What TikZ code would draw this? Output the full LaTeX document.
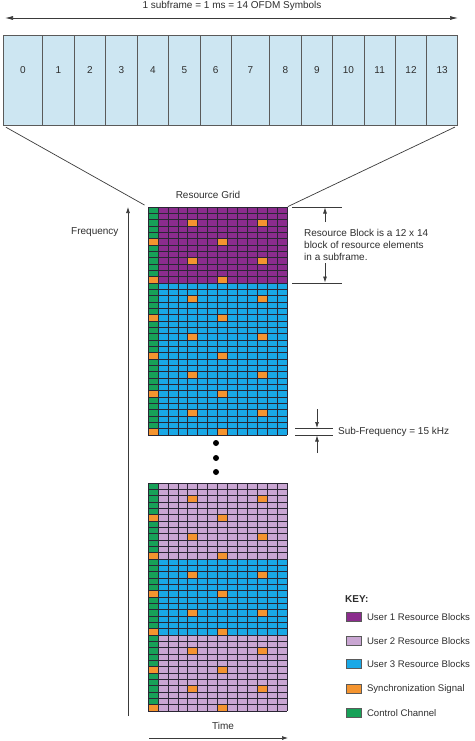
\documentclass[tikz,border=0pt]{standalone}
\usepackage{fontspec}
\setmainfont{Liberation Sans}
\usepackage{tikz}
\usetikzlibrary{arrows.meta,positioning}

\definecolor{symblue}{HTML}{CDE6F2}
\definecolor{boxedge}{HTML}{5A5A5A}
\definecolor{lineclr}{HTML}{3A3A3A}
\definecolor{txt}{HTML}{2E2E2E}
\definecolor{userone}{HTML}{8B2C8D}
\definecolor{usertwo}{HTML}{C9A6D2}
\definecolor{userthree}{HTML}{19A8E6}
\definecolor{syncorange}{HTML}{F4942F}
\definecolor{ctrlgreen}{HTML}{17A158}
\definecolor{gridline}{HTML}{2A2634}

\begin{document}
\begin{tikzpicture}[x=1pt, y=-1pt, font=\fontsize{10}{12}\selectfont, text=txt,
    symbox/.style={draw=boxedge, fill=symblue, line width=0.8pt, inner sep=0pt, outer sep=0pt, minimum height=90.5pt},
    zoomline/.style={draw=lineclr, line width=0.7pt},
    cellline/.style={draw=gridline, line width=0.5pt},
    dimline/.style={draw=lineclr, line width=0.7pt},
    dimarrow/.style={draw=lineclr, line width=0.7pt, -{Latex[length=6pt,width=4pt]}},
    swatch/.style={draw=boxedge, line width=0.6pt, minimum width=15pt, minimum height=9pt, inner sep=0pt}]
    \useasboundingbox (0,0) rectangle (474,741);
            %Subframe span
        \node (title) at (232,6) {1 subframe = 1 ms = 14 OFDM Symbols};
        \coordinate (spanL) at (5,18);
        \coordinate (spanR) at (458,18);
        \draw[dimline, {Latex[length=8pt,width=4pt]}-{Latex[length=8pt,width=4pt]}] (spanL) -- (spanR);
            %Symbol boxes
        \foreach \i/\a/\b in {0/3.3/42.7, 1/42.7/74, 2/74/105.7, 3/105.7/137.3, 4/137.3/168.7, 5/168.7/200, 6/200/231.3, 7/231.3/269.3, 8/269.3/301.3, 9/301.3/332.7, 10/332.7/364, 11/364/395.3, 12/395.3/426.7, 13/426.7/457.7}
        \node[symbox, minimum width={(\b-\a)*1pt}] (sym\i) at ({(\a+\b)/2},80.5) {};
        \foreach \i in {0,...,13}
        \node (num\i) at ([yshift=10pt]sym\i.center) {\i};
            %Zoom lines
        \coordinate (gridNW) at (148,207);
        \coordinate (gridNE) at (287,207);
        \draw[zoomline, shorten <=3pt, shorten >=4pt] (sym0.south west) -- (gridNW);
        \draw[zoomline, shorten <=3pt, shorten >=1pt] (sym13.south east) -- (gridNE);
        \node (gridtitle) at (208,195) {Resource Grid};
            %Resource grids
        \foreach \gtop/\ca/\cb/\cc in {207/userone/userthree/userthree, 483/usertwo/userthree/usertwo}{
            \fill[fill=\ca] (148,\gtop) rectangle (287,\gtop+76);
            \fill[fill=\cb] (148,\gtop+76) rectangle (287,\gtop+152);
            \fill[fill=\cc] (148,\gtop+152) rectangle (287,\gtop+228);
            \fill[ctrlgreen] (148,\gtop) rectangle (157.93,\gtop+228);
            \foreach \r in {2,8,...,32}
            \foreach \c in {4,11}
            \fill[syncorange] (148+\c*9.93,\gtop+\r*6.333) rectangle +(9.93,6.333);
            \foreach \r in {5,11,...,35}
            \foreach \c in {0,7}
            \fill[syncorange] (148+\c*9.93,\gtop+\r*6.333) rectangle +(9.93,6.333);
            \foreach \c in {0,...,14}
            \draw[cellline] (148+\c*9.93,\gtop) -- +(0,228);
            \foreach \r in {0,...,36}
            \draw[cellline] (148,\gtop+\r*6.333) -- +(139,0);
        }
            %Dots
        \foreach \y in {443,458,472}
        \fill[black] (216,\y) circle (3pt);
            %Axes
        \coordinate (freqfoot) at (128,716);
        \coordinate (freqtip) at (128,207);
        \draw[dimarrow] (freqfoot) -- (freqtip);
        \node[anchor=east] (freqlabel) at (122,232) {Frequency};
        \coordinate (timefoot) at (149,738);
        \coordinate (timetip) at (288,738);
        \draw[dimarrow] (timefoot) -- (timetip);
        \node (timelabel) at (223,726) {Time};
            %Resource block size
        \coordinate (rbtopL) at (292,207);
        \coordinate (rbtopR) at (342,207);
        \coordinate (rbbotL) at (292,283);
        \coordinate (rbbotR) at (342,283);
        \coordinate (rbup) at (325,222);
        \coordinate (rbupTip) at (325,207.5);
        \coordinate (rbdown) at (325,263);
        \coordinate (rbdownTip) at (325,282.5);
        \draw[dimline] (rbtopL) -- (rbtopR);
        \draw[dimline] (rbbotL) -- (rbbotR);
        \draw[dimarrow] (rbup) -- (rbupTip);
        \draw[dimarrow] (rbdown) -- (rbdownTip);
        \node[anchor=north west, align=left, inner sep=0pt] (rbnote) at (304,229) {Resource Block is a 12 x 14\\block of resource elements\\in a subframe.};
            %Sub-frequency
        \coordinate (sfTopL) at (295,428.5);
        \coordinate (sfTopR) at (333,428.5);
        \coordinate (sfBotL) at (295,435);
        \coordinate (sfBotR) at (333,435);
        \coordinate (sfdown) at (317,409);
        \coordinate (sfdownTip) at (317,428);
        \coordinate (sfup) at (317,453);
        \coordinate (sfupTip) at (317,435.5);
        \draw[dimline] (sfTopL) -- (sfTopR);
        \draw[dimline] (sfBotL) -- (sfBotR);
        \draw[dimarrow] (sfdown) -- (sfdownTip);
        \draw[dimarrow] (sfup) -- (sfupTip);
        \node[anchor=west, inner sep=0pt] (sfnote) at (338,431.5) {Sub-Frequency = 15 kHz};
            %Key
        \node[anchor=west, inner sep=0pt, font=\fontsize{10}{12}\selectfont\bfseries] (keytitle) at (345,599) {KEY:};
        \foreach \k/\c/\y/\t in {1/userone/617/User 1 Resource Blocks, 2/usertwo/641/User 2 Resource Blocks, 3/userthree/664/User 3 Resource Blocks, 4/syncorange/689/Synchronization Signal, 5/ctrlgreen/713/Control Channel}{
            \node[swatch, fill=\c] (key\k) at (353.5,\y) {};
            \node[right=5.5pt of key\k, inner sep=0pt, font=\fontsize{9.6}{11.5}\selectfont] (keytext\k) {\t};
        }
\end{tikzpicture}
\end{document}
